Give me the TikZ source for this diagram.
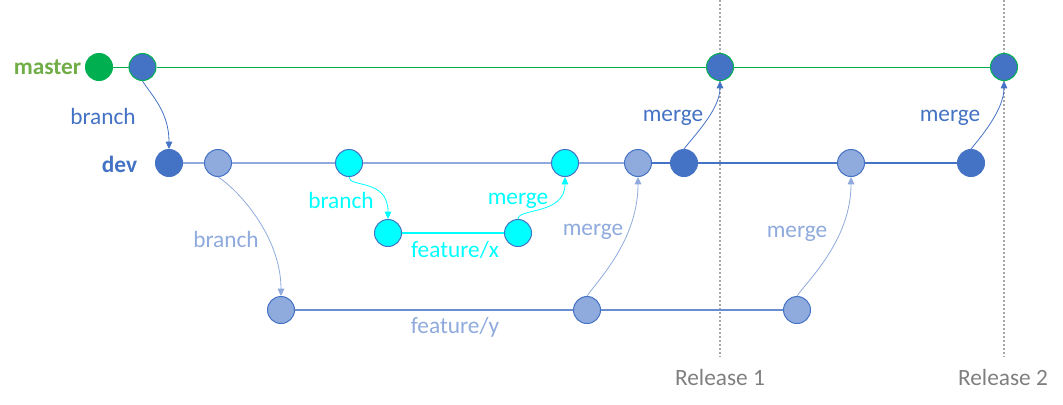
\documentclass[tikz,border=0pt]{standalone}
\usepackage{fontspec}
\setmainfont{Carlito}
\usetikzlibrary{arrows.meta}
\definecolor{dblue}{HTML}{4472C4}
\definecolor{lblue}{HTML}{8FAADC}
\definecolor{cyn}{HTML}{00FFFF}
\definecolor{grn}{HTML}{00B050}
\definecolor{mgreen}{HTML}{70AD47}
\definecolor{gry}{HTML}{7F7F7F}
\definecolor{dotgray}{HTML}{A6A6A6}
\begin{document}
\begin{tikzpicture}[x=0.75pt,y=-0.75pt,
  every node/.style={font=\fontsize{17.5}{21}\selectfont},
  commit/.style={circle,minimum size=20.25pt,inner sep=0pt,line width=0.75pt},
  darkc/.style={commit,fill=dblue,draw=dblue},
  lightc/.style={commit,fill=lblue,draw=dblue},
  cyanc/.style={commit,fill=cyn,draw=dblue},
  masterc/.style={commit,fill=dblue,draw=grn},
  greenc/.style={commit,fill=grn,draw=grn},
  tip/.style={-{Triangle[length=5.5pt,width=5pt]}},
  conn/.style={tip,line width=0.6pt},
  release/.style={draw=dotgray,line width=1.5pt,dash pattern=on 1.5pt off 1.5pt},
  lbl/.style={inner sep=0pt}]
\useasboundingbox (0,0) rectangle (1063,404);
% release markers
\coordinate (r1t) at (720,0);
\coordinate (r1b) at (720,357);
\coordinate (r2t) at (1004,0);
\coordinate (r2b) at (1004,357);
\draw[release] (r1t) -- (r1b);
\draw[release] (r2t) -- (r2b);
\node[lbl,text=gry] (rel1) at (720,377) {Release 1};
\node[lbl,text=gry] (rel2) at (1003,377) {Release 2};
% master
\node[lbl,text=mgreen,font=\fontsize{17.5}{21}\selectfont\bfseries] (mlab) at (47.5,67) {master};
\node[greenc] (m0) at (99,67) {};
\node[masterc] (m1) at (142.5,67) {};
\node[masterc] (m2) at (720,67) {};
\node[masterc] (m3) at (1004,67) {};
\draw[grn,line width=0.6pt] (m0) -- (m1) -- (m2) -- (m3);
% dev
\node[lbl,text=dblue,font=\fontsize{17.5}{21}\selectfont\bfseries] (dlab) at (119.5,164) {dev};
\node[darkc] (d1) at (169,163) {};
\node[lightc] (d2) at (218,163) {};
\node[cyanc] (d3) at (349,163) {};
\node[cyanc] (d4) at (565,163) {};
\node[lightc] (d5) at (638,163) {};
\node[darkc] (d6) at (684,163) {};
\node[lightc] (d7) at (851,163) {};
\node[darkc] (d8) at (971,163) {};
\draw[lblue,line width=1.8pt] (d1) -- (d2) -- (d3) -- (d4) -- (d5);
\draw[dblue,line width=0.8pt] (d5) -- (d6) -- (d7) -- (d8);
% feature/x
\node[cyanc] (x1) at (388,233) {};
\node[cyanc] (x2) at (518,233) {};
\draw[cyn,line width=0.8pt] (x1) -- (x2);
\node[lbl,text=cyn] (xlab) at (455,250) {feature/x};
% feature/y
\node[lightc] (y1) at (281,310) {};
\node[lightc] (y2) at (587,310) {};
\node[lightc] (y3) at (797,310) {};
\draw[dblue!80,line width=0.8pt] (y1) -- (y2) -- (y3);
\node[lbl,text=lblue] (ylab) at (455,327) {feature/y};
% connectors
\draw[conn,dblue] (m1.south) .. controls (152,96) and (169,112) .. (d1.north);
\node[lbl,text=dblue] (b1) at (103,116) {branch};
\draw[conn,lblue] (d2.south) .. controls (236,188) and (281,235) .. (y1.north);
\node[lbl,text=lblue] (b2) at (226,239) {branch};
\draw[conn,cyn] (d3.south) .. controls (349,188) and (388,178) .. (x1.north);
\node[lbl,text=cyn] (b3) at (341,200) {branch};
\draw[conn,cyn] (x2.north) .. controls (518,208) and (565,215) .. (d4.south);
\node[lbl,text=cyn] (g1) at (518,201) {merge};
\draw[conn,lblue] (y2.north) .. controls (598,280) and (638,240) .. (d5.south);
\node[lbl,text=lblue] (g2) at (593,232) {merge};
\draw[conn,lblue] (y3.north) .. controls (808,280) and (851,240) .. (d7.south);
\node[lbl,text=lblue] (g3) at (797,234) {merge};
\draw[conn,dblue] (d6.north) .. controls (692,138) and (720,110) .. (m2.south);
\node[lbl,text=dblue] (g4) at (673,118) {merge};
\draw[conn,dblue] (d8.north) .. controls (980,138) and (1004,110) .. (m3.south);
\node[lbl,text=dblue] (g5) at (950,118) {merge};
\end{tikzpicture}
\end{document}
